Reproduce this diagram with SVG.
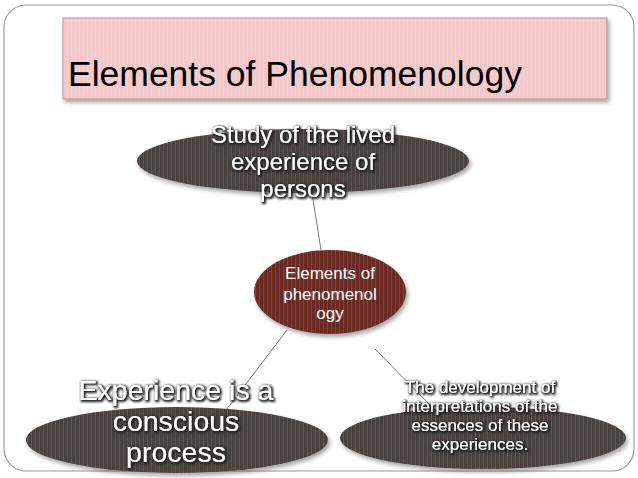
<svg xmlns="http://www.w3.org/2000/svg" width="638" height="478" viewBox="0 0 638 478">
<defs>
<pattern id="st" width="4" height="4" patternUnits="userSpaceOnUse"><rect width="4" height="4" fill="none"/><line x1="3.5" y1="0" x2="3.5" y2="4" stroke="#ffffff" stroke-opacity="0.12" stroke-width="1"/></pattern>
<filter id="sh" x="-10%" y="-10%" width="120%" height="130%"><feDropShadow dx="2" dy="3" stdDeviation="2" flood-color="#000" flood-opacity="0.35"/></filter>
<filter id="ts" x="-5%" y="-10%" width="110%" height="130%"><feMorphology in="SourceAlpha" operator="dilate" radius="0.6" result="d"/><feGaussianBlur in="d" stdDeviation="0.8" result="b"/><feOffset in="b" dx="1" dy="1" result="o"/><feFlood flood-color="#222"/><feComposite in2="o" operator="in"/><feMerge><feMergeNode/><feMergeNode in="SourceGraphic"/></feMerge></filter>
</defs>
<style>
.t{font-family:"Liberation Sans",Arial,sans-serif;fill:#fff;text-anchor:middle}
.dark{fill:#4a3f3f}
.c{stroke:#777;stroke-width:1;fill:none}
</style>
<rect x="4" y="5" width="630" height="466" rx="22" fill="#fff" stroke="#999" stroke-width="1.2"/>
<g id="title">
<rect x="63" y="18" width="544" height="81" fill="#f3c9c9" stroke="#c08a8a" filter="url(#sh)"/>
<rect x="63" y="18" width="544" height="81" fill="url(#st)"/>
<text x="68" y="86" font-family="'Liberation Sans',Arial,sans-serif" font-size="35.5" fill="#000">Elements of Phenomenology</text>
</g>
<g id="connectors">
<line class="c" x1="312" y1="193" x2="321" y2="250"/>
<line class="c" x1="287" y1="330" x2="220" y2="418"/>
<line class="c" x1="375" y1="349" x2="436" y2="411"/>
</g>
<g id="top">
<ellipse cx="303" cy="161" rx="166" ry="32" class="dark" filter="url(#sh)"/>
<ellipse cx="303" cy="161" rx="166" ry="32" fill="url(#st)"/>
<text class="t" font-size="24" filter="url(#ts)"><tspan x="303" y="143">Study of the lived</tspan><tspan x="303" y="170">experience of</tspan><tspan x="303" y="197">persons</tspan></text>
</g>
<g id="center">
<ellipse cx="330" cy="292" rx="76" ry="42" fill="#6a2b20" filter="url(#sh)"/>
<ellipse cx="330" cy="292" rx="76" ry="42" fill="url(#st)"/>
<text class="t" font-size="17"><tspan x="330" y="279">Elements of</tspan><tspan x="330" y="300">phenomenol</tspan><tspan x="330" y="319">ogy</tspan></text>
</g>
<g id="left">
<ellipse cx="177" cy="440" rx="151" ry="33" class="dark" filter="url(#sh)"/>
<ellipse cx="177" cy="440" rx="151" ry="33" fill="url(#st)"/>
<text class="t" font-size="28.5" filter="url(#ts)"><tspan x="176" y="400">Experience is a</tspan><tspan x="176" y="431">conscious</tspan><tspan x="176" y="462">process</tspan></text>
</g>
<g id="right">
<ellipse cx="483" cy="438" rx="143" ry="31" class="dark" filter="url(#sh)"/>
<ellipse cx="483" cy="438" rx="143" ry="31" fill="url(#st)"/>
<text class="t" font-size="17" filter="url(#ts)"><tspan x="480" y="393">The development of</tspan><tspan x="480" y="412">interpretations of the</tspan><tspan x="480" y="431">essences of these</tspan><tspan x="480" y="450">experiences.</tspan></text>
</g>
</svg>
